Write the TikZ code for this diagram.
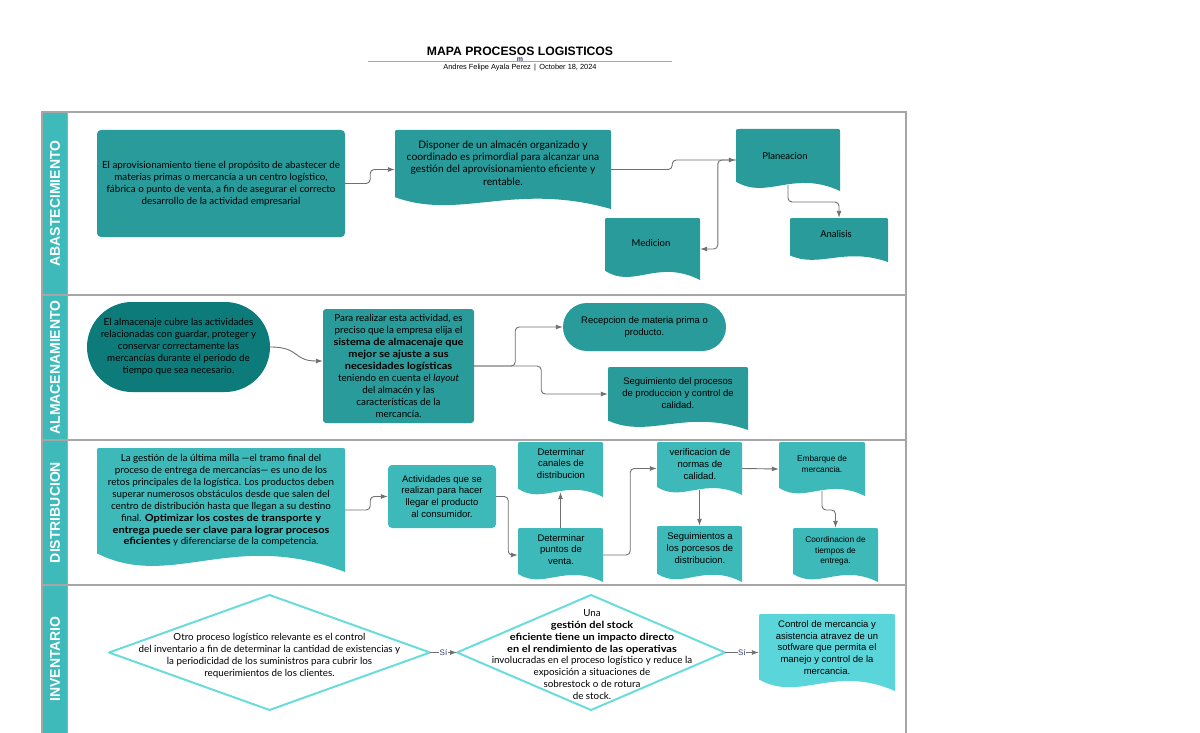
\documentclass[tikz,border=0pt]{standalone}
\usepackage{fontspec}
\setmainfont{Lato}
\newfontfamily\arial{Liberation Sans}
\newfontfamily\widebold[FakeStretch=1.12]{Lato Bold}
\newcommand\wb[1]{{\widebold #1}}
\usetikzlibrary{arrows.meta,shapes.misc,calc}
\definecolor{tealA}{HTML}{289B9A}
\definecolor{tealDark}{HTML}{0E7B7B}
\definecolor{tealC}{HTML}{3DB9B9}
\definecolor{cyanD}{HTML}{5AD5D9}
\definecolor{headcol}{HTML}{3DBAB9}
\definecolor{diacol}{HTML}{6ADCDC}
\definecolor{framecol}{HTML}{A6A6A6}
\definecolor{conncol}{HTML}{707070}
\definecolor{navy}{HTML}{2B3A7C}

\newcommand\DocShape[6]{%
  \pgfmathsetmacro\dW{#4-#2}\pgfmathsetmacro\dH{#5-#3}%
  \fill[#6] (#2,#3+0.85*\dH) -- (#2,#3+3) .. controls (#2,#3) .. (#2+3,#3)
    -- (#4-3,#3) .. controls (#4,#3) .. (#4,#3+3) -- (#4,#5)
    .. controls (#2+0.55*\dW,#3+0.65*\dH) and (#2+0.3*\dW,#3+1.15*\dH) .. (#2,#3+0.85*\dH) -- cycle;
  \node[inner sep=0pt, minimum width=\dW*1pt, minimum height=\dH*1pt] (#1) at ({(#2+#4)/2},{(#3+#5)/2}) {};
}

\begin{document}
\begin{tikzpicture}[x=1pt,y=-1pt,
  lato/.style={font=\fontsize{9.8pt}{12pt}\selectfont, align=center, text=black, inner sep=0pt},
  latow/.style={font=\fontsize{9.5pt}{12pt}\selectfont, align=center, text=black, inner sep=0pt},
  ari/.style={font=\arial\fontsize{9.5pt}{11.8pt}\selectfont, align=center, text=black, inner sep=0pt},
  aris/.style={font=\arial\fontsize{8.3pt}{10.5pt}\selectfont, align=center, text=black, inner sep=0pt},
  lanehead/.style={rotate=90, font=\arial\bfseries\fontsize{14pt}{14pt}\selectfont, text=white},
  boxA/.style={fill=tealA, rounded corners=4pt, inner sep=0pt},
  conn/.style={draw=conncol, line width=0.9pt, rounded corners=4pt, -{Latex[length=7pt,width=5pt]}},
  silabel/.style={font=\arial\fontsize{8pt}{8pt}\selectfont, text=navy, fill=white, inner sep=0.5pt},
  dia/.style={draw=diacol, line width=2pt, line join=round, fill=white}
]
\useasboundingbox (0,0) rectangle (1200,733);
\fill[white] (0,0) rectangle (1200,733);

% title block
\node[font=\arial\bfseries\fontsize{12.2pt}{14pt}\selectfont] (title) at (520,51) {MAPA PROCESOS LOGISTICOS};
\coordinate (tl) at (368,61);
\coordinate (tr) at (672,61);
\draw[framecol, line width=0.8pt] (tl) -- (tr);
\node[font=\arial\bfseries\fontsize{7pt}{7pt}\selectfont, text=navy, inner sep=0pt] (mark) at (520,59.5) {m};
\node[font=\arial\fontsize{7.4pt}{8pt}\selectfont] (sub) at (520,68) {Andres Felipe Ayala Perez \,|\, October 18, 2024};

% swimlane frame
\fill[headcol] (42,112) rectangle (67,740);
\draw[framecol, line width=1.4pt] (42,740) -- (42,112) -- (906,112) -- (906,740);
\draw[framecol, line width=1.4pt] (42,295) -- (906,295);
\draw[framecol, line width=1.4pt] (42,440) -- (906,440);
\draw[framecol, line width=1.4pt] (42,585) -- (906,585);
\draw[framecol, line width=0.6pt] (67,112) -- (67,740);
\node[lanehead] (h1) at (55,203.5) {ABASTECIMIENTO};
\node[lanehead] (h2) at (55,367.5) {ALMACENAMIENTO};
\node[lanehead] (h3) at (55,512.5) {DISTRIBUCION};
\node[lanehead] (h4) at (55,659) {INVENTARIO};

% ---------- ABASTECIMIENTO ----------
\node[boxA, minimum width=248pt, minimum height=107pt, lato] (a1) at (221,183.5)
 {El aprovisionamiento tiene el propósito de abastecer de\\materias primas o mercancía a un centro logístico,\\fábrica o punto de venta, a fin de asegurar el correcto\\desarrollo de la actividad empresarial};
\DocShape{a2}{395}{130}{611}{209}{tealA}
\node[lato, font=\fontsize{10.3pt}{12.3pt}\selectfont] (a2t) at (503,163) {Disponer de un almacén organizado y\\coordinado es primordial para alcanzar una\\gestión del aprovisionamiento eficiente y\\rentable.};
\DocShape{plan}{736}{129}{840}{191}{tealA}
\node[latow] (plant) at (785,156) {Planeacion};
\DocShape{med}{605}{218}{700}{280}{tealA}
\node[latow] (medt) at (651,243) {Medicion};
\DocShape{anal}{790}{218}{888}{262}{tealA}
\node[latow] (analt) at (836,234) {Analisis};

\draw[conn] (a1.east) -- ++(25,0) |- (a2.west);
\draw[conn] (a2.east) -- ++(61,0) |- (plan.west);
\draw[conn] (plan.west) -- ++(-18,0) |- (med.east);
\coordinate (lv1) at (0,202);
\draw[conn] ([yshift=6pt]plan.south) -- (plan.south |- lv1) -| (anal.north);

% ---------- ALMACENAMIENTO ----------
\node[rounded rectangle, fill=tealDark, minimum width=183pt, minimum height=90pt, inner sep=0pt, lato] (b1) at (178.5,347)
 {El almacenaje cubre las actividades\\relacionadas con guardar, proteger y\\conservar correctamente las\\mercancías durante el periodo de\\tiempo que sea necesario.};
\node[boxA, rounded corners=3pt, minimum width=151pt, minimum height=114pt, lato, font=\fontsize{9.8pt}{11.9pt}\selectfont] (b2) at (398.5,366)
 {Para realizar esta actividad, es\\preciso que la empresa elija el\\\wb{sistema de almacenaje que}\\\wb{mejor se ajuste a sus}\\\wb{necesidades logísticas}\\teniendo en cuenta el \textit{layout}\\del almacén y las\\características de la\\mercancía.};
\node[rounded rectangle, fill=tealA, minimum width=163pt, minimum height=48pt, inner sep=0pt, ari] (b3) at (644.5,327)
 {Recepcion de materia prima o\\producto.};
\DocShape{b4}{608}{367}{748}{430}{tealA}
\node[ari] (b4t) at (678,393) {Seguimiento del procesos\\de produccion y control de\\calidad.};

\draw[conn] (b1.east) .. controls +(30,0) and +(-30,0) .. ([yshift=5pt]b2.west);
\draw[conn] (b2.east) -- ++(41,0) |- (b3.west);
\draw[conn] (b2.east) -- ++(67,0) |- ([yshift=4.5pt]b4.west);

% ---------- DISTRIBUCION ----------
\DocShape{c1}{97}{448}{345}{572}{tealC}
\node[lato, font=\fontsize{9.8pt}{11.9pt}\selectfont] (c1t) at (221,500.5)
 {La gestión de la última milla —el tramo final del\\proceso de entrega de mercancías— es uno de los\\retos principales de la logística. Los productos deben\\superar numerosos obstáculos desde que salen del\\centro de distribución hasta que llegan a su destino\\final. \wb{Optimizar los costes de transporte y}\\\wb{entrega puede ser clave para lograr procesos}\\\wb{eficientes} y diferenciarse de la competencia.};
\node[fill=tealC, rounded corners=4pt, minimum width=108pt, minimum height=63pt, ari] (c2) at (442,496.5)
 {Actividades que se\\realizan para hacer\\llegar el producto\\al consumidor.};
\DocShape{dcan}{518}{442}{603}{497}{tealC}
\node[ari] (dcant) at (561,463.5) {Determinar\\canales de\\distribucion};
\DocShape{dpun}{518}{528}{603}{582}{tealC}
\node[ari] (dpunt) at (561,549.5) {Determinar\\puntos de\\venta.};
\DocShape{verif}{657}{442}{742}{495}{tealC}
\node[ari] (verift) at (700,464) {verificacion de\\normas de\\calidad.};
\DocShape{segd}{657}{526}{742}{582}{tealC}
\node[ari] (segdt) at (700,548) {Seguimientos a\\los porcesos de\\distribucion.};
\DocShape{emb}{779}{442}{865}{496}{tealC}
\node[aris] (embt) at (822,464) {Embarque de\\mercancia.};
\DocShape{coord}{793}{528}{878}{582}{tealC}
\node[aris] (coordt) at (835.5,551) {Coordinacion de\\tiempos de\\entrega.};

\draw[conn] (c1.east) -- ++(25,0) |- (c2.west);
\draw[conn] (c2.east) -- ++(12,0) |- (dpun.west);
\draw[conn] (dpun.north) -- ([yshift=5pt]dcan.south);
\draw[conn] (dpun.east) -- ++(27,0) |- (verif.west);
\draw[conn] ([yshift=5pt]verif.south) -- (segd.north);
\draw[conn] (verif.east) -- (emb.west);
\coordinate (lv2) at (0,510);
\draw[conn] ([yshift=5pt]emb.south) -- (emb.south |- lv2) -| (coord.north);

% ---------- INVENTARIO ----------
\coordinate (d1l) at (109,652.5);
\coordinate (d1t) at (269.5,595);
\coordinate (d1r) at (430,652.5);
\coordinate (d1b) at (269.5,710);
\draw[dia] (d1l) -- (d1t) -- (d1r) -- (d1b) -- cycle;
\node[lato] (d1) at (269.5,656)
 {Otro proceso logístico relevante es el control\\del inventario a fin de determinar la cantidad de existencias y\\la periodicidad de los suministros para cubrir los\\requerimientos de los clientes.};
\coordinate (d2l) at (457,652.5);
\coordinate (d2t) at (591,595);
\coordinate (d2r) at (725,652.5);
\coordinate (d2b) at (591,710);
\draw[dia] (d2l) -- (d2t) -- (d2r) -- (d2b) -- cycle;
\node[lato, font=\fontsize{9.8pt}{11.9pt}\selectfont] (d2) at (592,654.5)
 {Una\\\wb{gestión del stock}\\\wb{eficiente tiene un impacto directo}\\\wb{en el rendimiento de las operativas}\\involucradas en el proceso logístico y reduce la\\exposición a situaciones de\\sobrestock o de rotura\\de stock.};
\DocShape{d3}{759}{614}{895}{691}{cyanD}
\node[ari] (d3t) at (827,647.5) {Control de mercancia y\\asistencia atravez de un\\sotfware que permita el\\manejo y control de la\\mercancia.};

\draw[conn, rounded corners=0pt] (d1r) -- node[silabel] (si1) {Sí} (d2l);
\draw[conn, rounded corners=0pt] (d2r) -- node[silabel] (si2) {Sí} (d3.west);
\end{tikzpicture}
\end{document}
